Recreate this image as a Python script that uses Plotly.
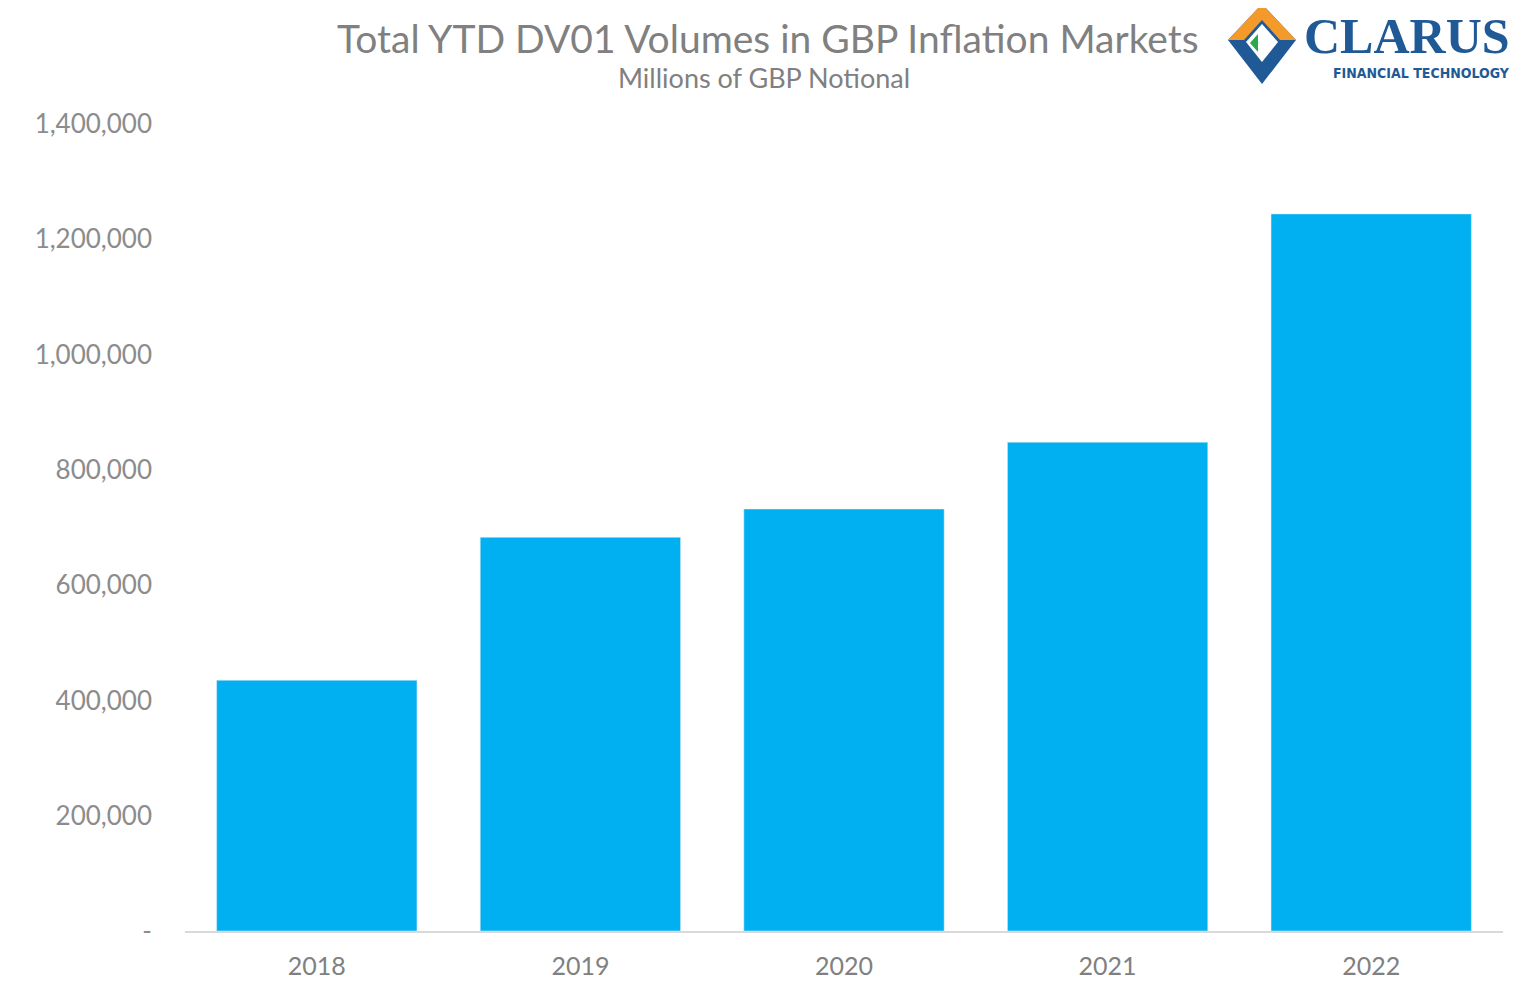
import plotly.graph_objects as go

years = ["2018", "2019", "2020", "2021", "2022"]
volumes = [435000, 683000, 732000, 848000, 1244000]
tick_vals = [0, 200000, 400000, 600000, 800000, 1000000, 1200000, 1400000]
tick_text = ["-", "200,000", "400,000", "600,000", "800,000", "1,000,000", "1,200,000", "1,400,000"]

W, H, OFF = 1511, 982, 8
L, R, T, B = 185 - OFF, 1527 - 1503 - OFF, 124 - OFF, 998 - 931 - OFF
fig = go.Figure(go.Bar(x=years, y=volumes, marker_color="#00B0F0", width=0.76))
fig.update_layout(
    width=W, height=H, plot_bgcolor="white", paper_bgcolor="white",
    margin=dict(l=L, r=R, t=T, b=B),
    font=dict(family="Lato", color="#808080", size=24),
    showlegend=False,
)
pw = W - L - R
ph = H - T - B
def px(x): return (x - OFF - L) / pw
def py(y): return (H - B - (y - OFF)) / ph
fig.layout.annotations = [
    dict(text="Total YTD DV01 Volumes in GBP Inflation Markets", x=px(768), y=py(38), xref="paper", yref="paper",
         showarrow=False, font=dict(size=39, color="#808080"), yanchor="middle"),
    dict(text="Millions of GBP Notional", x=px(764), y=py(77), xref="paper", yref="paper",
         showarrow=False, font=dict(size=27, color="#808080"), yanchor="middle"),
    dict(text="<b>CLARUS</b>", x=px(1512), y=py(36), xref="paper", yref="paper", showarrow=False, xanchor="right",
         font=dict(family="Liberation Serif", size=50, color="#1F5A96"), yanchor="middle"),
    dict(text="<b>FINANCIAL TECHNOLOGY</b>", x=px(1512), y=py(73), xref="paper", yref="paper", showarrow=False, xanchor="right",
         font=dict(family="DejaVu Sans Condensed", size=14, color="#1F5A96"), yanchor="middle"),
]
def path(pts):
    return "M " + " L ".join(f"{px(a)} {py(b)}" for a, b in pts) + " Z"
fig.add_shape(type="path", xref="paper", yref="paper", path=path([(1262, 4), (1296, 40), (1262, 84), (1228, 40)]),
              fillcolor="#1F5A96", line=dict(width=0))
fig.add_shape(type="path", xref="paper", yref="paper",
              path=path([(1262, 4), (1296, 40), (1280, 40), (1262, 20), (1244, 40), (1228, 40)]),
              fillcolor="#F39A2B", line=dict(width=0))
fig.add_shape(type="path", xref="paper", yref="paper", path=path([(1262, 24), (1278, 42), (1262, 62), (1246, 42)]),
              fillcolor="white", line=dict(width=0))
fig.add_shape(type="path", xref="paper", yref="paper", path=path([(1258, 34), (1258, 52), (1250, 43)]),
              fillcolor="#2AA84A", line=dict(width=0))
fig.update_xaxes(showline=True, linecolor="#D9D9D9", linewidth=1.5, ticks="", ticklabelstandoff=12, automargin=False,
                 tickfont=dict(size=25, color="#808080"))
fig.update_yaxes(range=[0, 1400000], tickvals=tick_vals, ticktext=tick_text, showgrid=False, zeroline=False,
                 automargin=False, ticks="", ticklabelstandoff=32, tickfont=dict(size=26, color="#8C8C8C"))
fig.write_html("out.html")
